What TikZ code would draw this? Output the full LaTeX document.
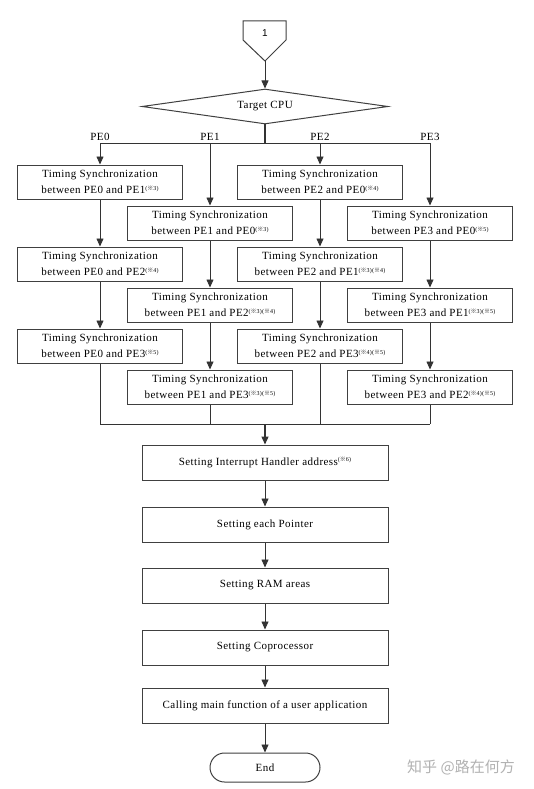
\documentclass[tikz,border=0pt]{standalone}
\usepackage{fontspec}
\setmainfont[LetterSpace=4]{Liberation Serif}
\newfontfamily\cjk{Noto Sans CJK SC}
\newfontfamily\lsans{Liberation Sans}
\usetikzlibrary{arrows.meta,shapes.geometric}
\newcommand\km{{\cjk ※}}
\newcommand\nt[1]{\raisebox{3.5pt}{\fontsize{6}{6}\selectfont #1}}
\begin{document}
\begin{tikzpicture}[x=1pt,y=-1pt,
  every node/.style={font=\fontsize{11}{16}\selectfont},
  ln/.style={draw=black!80,line width=0.8pt},
  arr/.style={ln,-{Triangle[length=8pt,width=7pt]}},
  sbox/.style={draw=black!75,line width=1pt,minimum width=165pt,minimum height=34pt,inner sep=0pt,align=center,fill=white},
  mbox/.style={sbox,minimum width=246pt,minimum height=35pt},
  lbl/.style={font=\fontsize{11}{13}\selectfont,anchor=base}]
\useasboundingbox (0,0) rectangle (534,789);
\fill[white] (0,0) rectangle (534,789);

% off-page connector
\draw[draw=black!75,line width=1pt] (243,21) -- (286,21) -- (286,40) -- (265,61) -- (243,40) -- cycle;
\node[font=\lsans\fontsize{10}{12}\selectfont] (one) at (265,33) {1};
\coordinate (onetip) at (265,61);

% decision
\node[draw=black!75,line width=1pt,shape=diamond,aspect=7,minimum width=246pt,minimum height=35pt,inner sep=0pt] (cpu) at (265,106.5) {Target CPU};
\draw[arr] (onetip) -- (cpu.north);

\coordinate (split) at (265,143);
\draw[ln,line width=1.3pt] (cpu.south) -- (split);
\coordinate (t0) at (100,143);
\coordinate (t1) at (210,143);
\coordinate (t2) at (320,143);
\coordinate (t3) at (430,143);
\draw[ln] (t0) -- (t3);
\node[lbl] (l0) at (100,140) {PE0};
\node[lbl] (l1) at (210,140) {PE1};
\node[lbl] (l2) at (320,140) {PE2};
\node[lbl] (l3) at (430,140) {PE3};

% PE0 column
\node[sbox] (a0) at (100,182) {Timing Synchronization\\between PE0 and PE1\nt{(\km3)}};
\node[sbox] (a2) at (100,264) {Timing Synchronization\\between PE0 and PE2\nt{(\km4)}};
\node[sbox] (a4) at (100,346) {Timing Synchronization\\between PE0 and PE3\nt{(\km5)}};
% PE1 column
\node[sbox] (b1) at (210,223) {Timing Synchronization\\between PE1 and PE0\nt{(\km3)}};
\node[sbox] (b3) at (210,305) {Timing Synchronization\\between PE1 and PE2\nt{(\km3)(\km4)}};
\node[sbox] (b5) at (210,387) {Timing Synchronization\\between PE1 and PE3\nt{(\km3)(\km5)}};
% PE2 column
\node[sbox] (c0) at (320,182) {Timing Synchronization\\between PE2 and PE0\nt{(\km4)}};
\node[sbox] (c2) at (320,264) {Timing Synchronization\\between PE2 and PE1\nt{(\km3)(\km4)}};
\node[sbox] (c4) at (320,346) {Timing Synchronization\\between PE2 and PE3\nt{(\km4)(\km5)}};
% PE3 column
\node[sbox] (d1) at (430,223) {Timing Synchronization\\between PE3 and PE0\nt{(\km5)}};
\node[sbox] (d3) at (430,305) {Timing Synchronization\\between PE3 and PE1\nt{(\km3)(\km5)}};
\node[sbox] (d5) at (430,387) {Timing Synchronization\\between PE3 and PE2\nt{(\km4)(\km5)}};

\draw[arr] (t0) -- (a0.north);
\draw[arr] (a0.south) -- (a2.north);
\draw[arr] (a2.south) -- (a4.north);
\draw[arr] (t1) -- (b1.north);
\draw[arr] (b1.south) -- (b3.north);
\draw[arr] (b3.south) -- (b5.north);
\draw[arr] (t2) -- (c0.north);
\draw[arr] (c0.south) -- (c2.north);
\draw[arr] (c2.south) -- (c4.north);
\draw[arr] (t3) -- (d1.north);
\draw[arr] (d1.south) -- (d3.north);
\draw[arr] (d3.south) -- (d5.north);

% merge
\coordinate (e0) at (100,424);
\coordinate (e1) at (210,424);
\coordinate (e2) at (320,424);
\coordinate (e3) at (430,424);
\coordinate (join) at (265,424);
\draw[ln] (a4.south) -- (e0);
\draw[ln] (b5.south) -- (e1);
\draw[ln] (c4.south) -- (e2);
\draw[ln] (d5.south) -- (e3);
\draw[ln] (e0) -- (e3);

% main sequence
\node[mbox] (m1) at (265,462.5) {Setting Interrupt Handler address\nt{(\km6)}};
\node[mbox] (m2) at (265,524.5) {Setting each Pointer};
\node[mbox] (m3) at (265,585.5) {Setting RAM areas};
\node[mbox] (m4) at (265,647.5) {Setting Coprocessor};
\node[mbox] (m5) at (265,705.5) {Calling main function of a user application};
\node[draw=black!75,line width=1pt,rounded corners=14.5pt,minimum width=110pt,minimum height=29pt,inner sep=0pt] (end) at (265,767.5) {End};

\draw[arr,line width=1.3pt] (join) -- (m1.north);
\draw[arr] (m1.south) -- (m2.north);
\draw[arr] (m2.south) -- (m3.north);
\draw[arr] (m3.south) -- (m4.north);
\draw[arr] (m4.south) -- (m5.north);
\draw[arr] (m5.south) -- (end.north);

% watermark
\node[font=\cjk\fontsize{15}{15}\selectfont,text=black!30,anchor=west,inner sep=0pt] (wm) at (407,767) {知乎 @路在何方};
\end{tikzpicture}
\end{document}
